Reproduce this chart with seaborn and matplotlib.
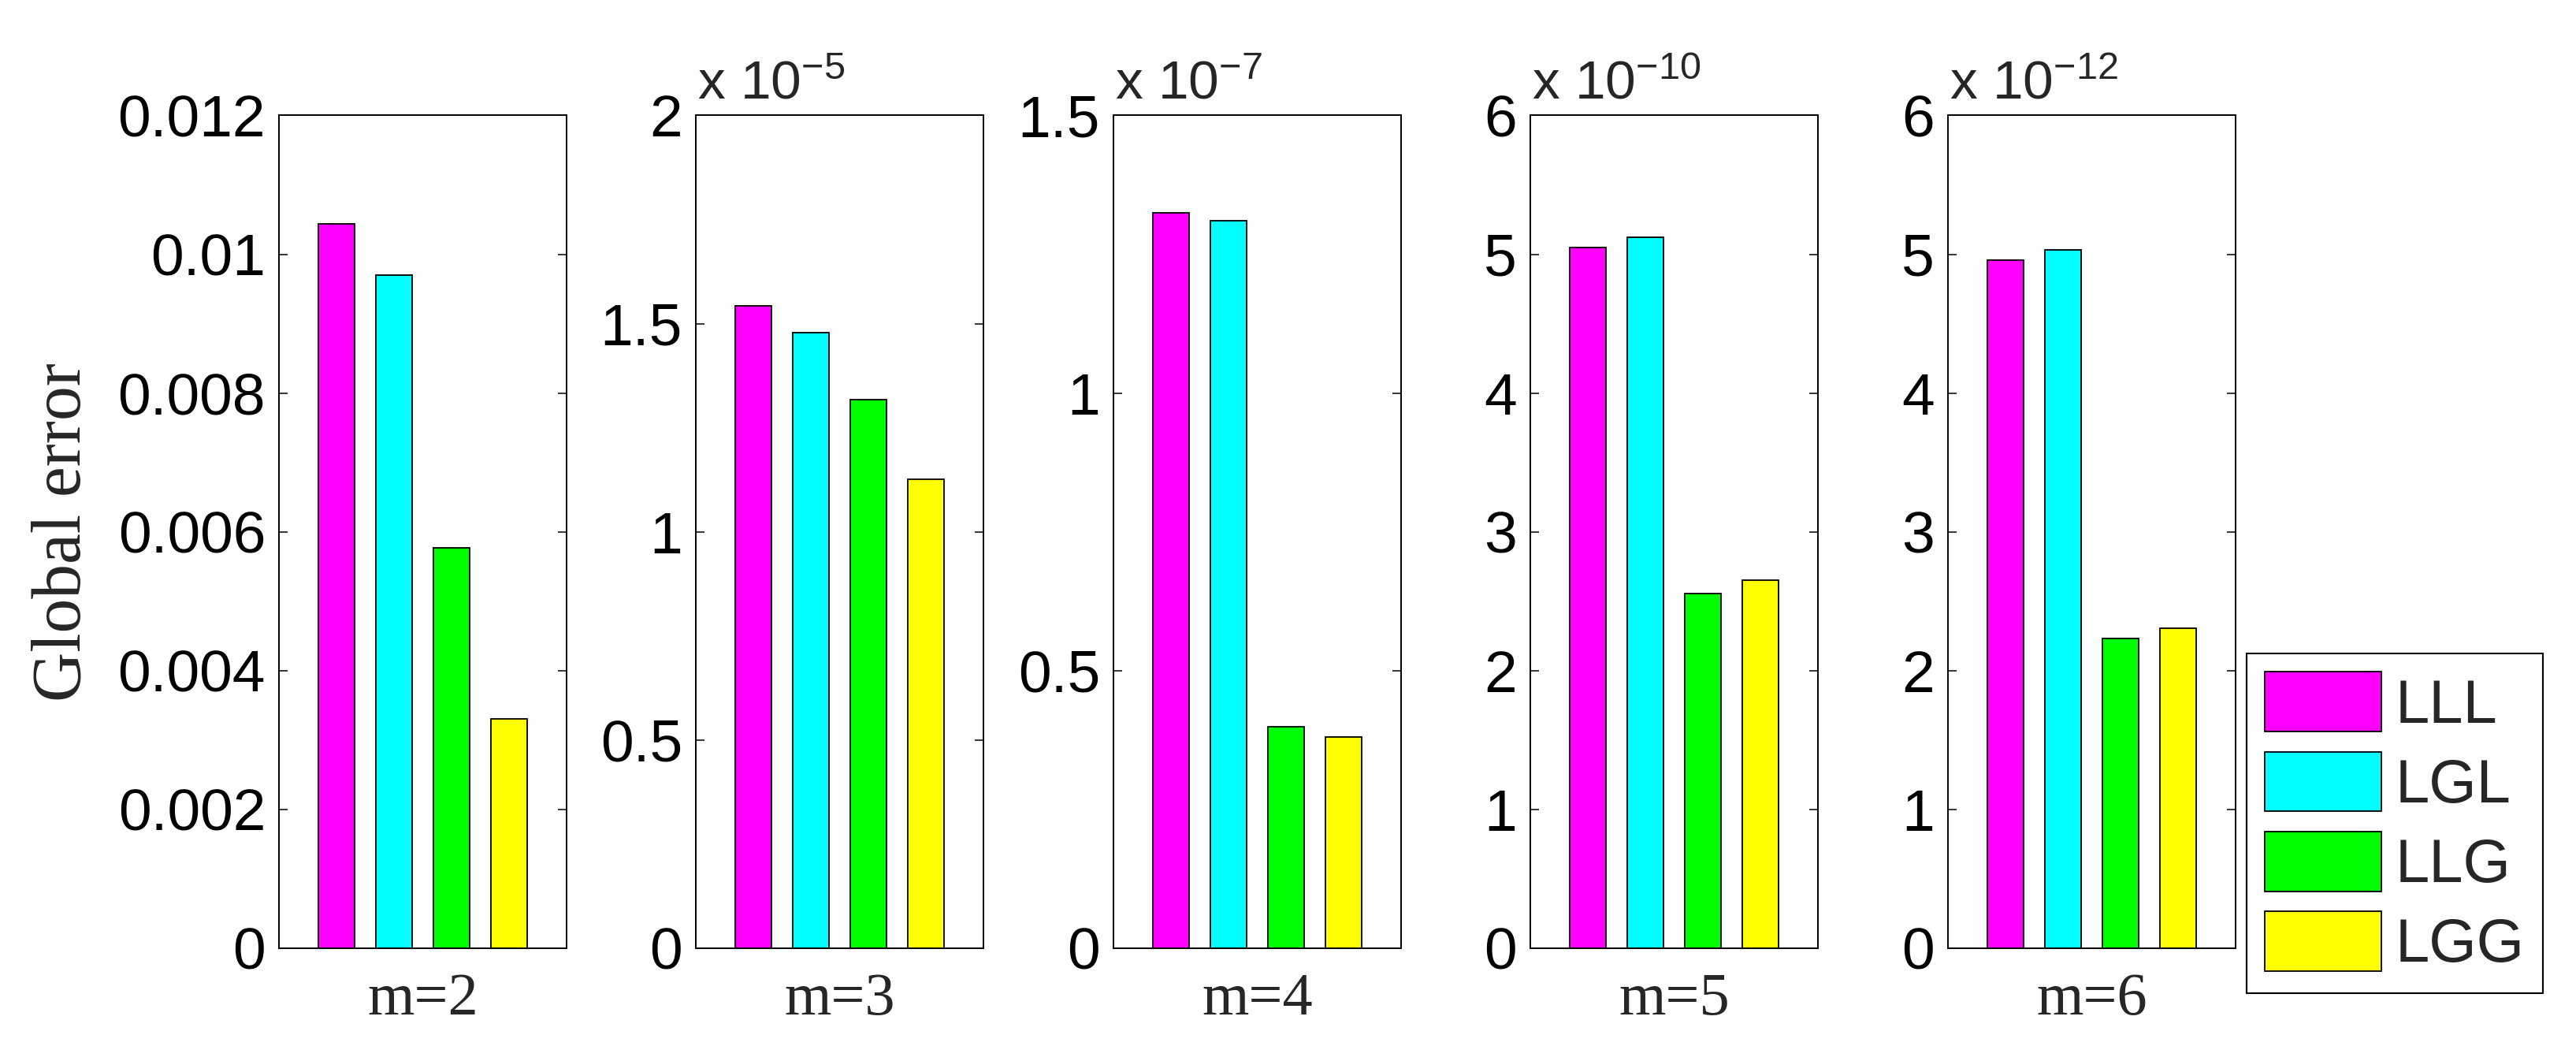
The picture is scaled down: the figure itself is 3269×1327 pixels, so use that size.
import matplotlib
matplotlib.use("Agg")
import matplotlib.pyplot as plt
from matplotlib.patches import Patch
import seaborn as sns

sns.set_style("ticks")
plt.rcParams["font.family"] = ["Liberation Sans", "DejaVu Sans"]
plt.rcParams["mathtext.fontset"] = "custom"
plt.rcParams["mathtext.rm"] = "Liberation Sans"
plt.rcParams["mathtext.default"] = "regular"

# ---------------- data ----------------
methods = ["LLL", "LGL", "LLG", "LGG"]
colors = ["#FF00FF", "#00FFFF", "#00FF00", "#FFFF00"]
panel_labels = ["m=2", "m=3", "m=4", "m=5", "m=6"]

vals_m2 = [0.01044, 0.00970, 0.00577, 0.00331]
vals_m3 = [1.542, 1.479, 1.317, 1.127]      # x 10^-5
vals_m4 = [1.3245, 1.310, 0.399, 0.381]     # x 10^-7
vals_m5 = [5.048, 5.120, 2.558, 2.654]      # x 10^-10
vals_m6 = [4.957, 5.029, 2.231, 2.308]      # x 10^-12

exponents = [None, "-5", "-7", "-10", "-12"]

ticks_m2 = [0, 0.002, 0.004, 0.006, 0.008, 0.010, 0.012]
ticklabels_m2 = ["0", "0.002", "0.004", "0.006", "0.008", "0.01", "0.012"]
ticks_m3 = [0, 0.5, 1, 1.5, 2]
ticklabels_m3 = ["0", "0.5", "1", "1.5", "2"]
ticks_m4 = [0, 0.5, 1, 1.5]
ticklabels_m4 = ["0", "0.5", "1", "1.5"]
ticks_m5 = [0, 1, 2, 3, 4, 5, 6]
ticklabels_m5 = ["0", "1", "2", "3", "4", "5", "6"]
ticks_m6 = [0, 1, 2, 3, 4, 5, 6]
ticklabels_m6 = ["0", "1", "2", "3", "4", "5", "6"]

all_vals = [vals_m2, vals_m3, vals_m4, vals_m5, vals_m6]
all_ticks = [ticks_m2, ticks_m3, ticks_m4, ticks_m5, ticks_m6]
all_ticklabels = [ticklabels_m2, ticklabels_m3, ticklabels_m4, ticklabels_m5, ticklabels_m6]

# ---------------- layout ----------------
W, H = 3269, 1327
fig = plt.figure(figsize=(W / 100, H / 100), dpi=100)
lefts_px = [354, 883, 1413, 1942, 2472]
ax_w_px = 365
ax_top_px, ax_bot_px = 146.4, 1203

for i in range(5):
    ax = fig.add_axes([lefts_px[i] / W, 1 - ax_bot_px / H, ax_w_px / W,
                       (ax_bot_px - ax_top_px) / H])
    sns.barplot(x=methods, y=all_vals[i], hue=methods, palette=colors,
                saturation=1, width=0.63, edgecolor="black", linewidth=1.3,
                legend=False, ax=ax)
    ax.set_xlim(-1, 4)
    ax.set_ylim(all_ticks[i][0], all_ticks[i][-1])
    ax.set_xticks([])
    ax.set_yticks(all_ticks[i])
    ax.set_yticklabels(all_ticklabels[i])
    ax.tick_params(axis="y", direction="in", length=7.9, width=1.1, pad=12.2,
                   labelsize=54, left=True, right=True, colors="black")
    for sp in ax.spines.values():
        sp.set_visible(True)
        sp.set_linewidth(1.4)
        sp.set_color("black")
    ax.set_xlabel(panel_labels[i], fontsize=55,
                  fontfamily=["Liberation Serif", "DejaVu Serif"])
    ax.xaxis.set_label_coords(0.5, -0.0795)
    ax.xaxis.label.set_va("baseline")
    if i == 0:
        ax.set_ylabel("Global error", fontsize=63,
                      fontfamily=["Liberation Serif", "DejaVu Serif"])
        ax.yaxis.set_label_coords(-0.75, 0.5)
        ax.yaxis.label.set_va("center")
        ax.yaxis.label.set_ha("center")
    else:
        ax.set_ylabel("")
    if exponents[i] is not None:
        ax.text(0.005, 0.02 + 1.0, r"x 10$^{%s}$" % exponents[i],
                transform=ax.transAxes, ha="left", va="baseline", fontsize=50)

handles = [Patch(facecolor=c, edgecolor="black", linewidth=1.3, label=m)
           for m, c in zip(methods, colors)]
leg = fig.legend(handles=handles, loc="upper left",
                 bbox_to_anchor=(2851 / W, 1 - 829 / H),
                 bbox_transform=fig.transFigure, borderaxespad=0,
                 fontsize=56, handlelength=1.9, handleheight=1.12,
                 handletextpad=0.23, labelspacing=0.27, borderpad=0.3,
                 frameon=True, fancybox=False, edgecolor="black",
                 framealpha=1)
leg.get_frame().set_linewidth(1.5)

fig.savefig("out.png", dpi=100, facecolor="white")
